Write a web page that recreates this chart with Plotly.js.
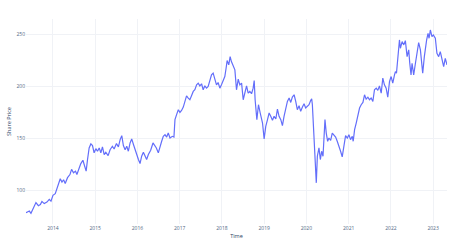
<!DOCTYPE html>
<html>
<head>
<meta charset="utf-8">
<script src="https://cdn.plot.ly/plotly-3.0.1.min.js"></script>
<style>html,body{margin:0;padding:0;background:#fff;}#chart{width:474px;height:252px;}</style>
</head>
<body>
<div id="chart"></div>
<script>
const dates = [
"2013-05-13","2013-06-11","2013-06-25","2013-07-18","2013-08-07","2013-08-28","2013-09-14","2013-09-28","2013-10-18","2013-11-10","2013-11-30","2013-12-15",
"2014-01-01","2014-01-21","2014-02-04","2014-02-19","2014-03-05","2014-03-20","2014-04-03","2014-04-17","2014-05-07","2014-05-28","2014-06-11","2014-06-28","2014-07-15","2014-07-27","2014-08-16","2014-08-30","2014-09-17","2014-09-28","2014-10-15","2014-10-27","2014-11-10","2014-11-25","2014-12-09","2014-12-23",
"2015-01-07","2015-01-21","2015-02-05","2015-02-19","2015-03-05","2015-03-20","2015-04-03","2015-04-23","2015-05-10","2015-05-30","2015-06-14","2015-07-04","2015-07-21","2015-08-05","2015-08-19","2015-09-02","2015-09-17","2015-10-01","2015-10-15","2015-10-30","2015-11-13","2015-11-28","2015-12-12","2015-12-26",
"2016-01-10","2016-01-24","2016-02-07","2016-02-22","2016-03-07","2016-03-21","2016-04-05","2016-04-25","2016-05-15","2016-05-29","2016-06-13","2016-06-30","2016-07-14","2016-07-29","2016-08-12","2016-08-27","2016-09-10","2016-09-24","2016-10-09","2016-10-29","2016-11-12","2016-11-21","2016-12-05","2016-12-20",
"2017-01-03","2017-01-17","2017-02-01","2017-02-15","2017-03-01","2017-03-16","2017-03-30","2017-04-13","2017-04-28","2017-05-12","2017-05-27","2017-06-10","2017-06-24","2017-07-09","2017-07-23","2017-08-06","2017-08-21","2017-09-04","2017-09-19","2017-10-03","2017-10-17","2017-11-01","2017-11-15","2017-11-29","2017-12-14","2017-12-28",
"2018-01-11","2018-01-26","2018-02-06","2018-02-15","2018-03-01","2018-03-13","2018-03-24","2018-04-08","2018-04-23","2018-05-07","2018-05-22","2018-06-05","2018-06-20","2018-07-04","2018-07-18","2018-08-02","2018-08-16","2018-08-30","2018-09-14","2018-09-28","2018-10-07","2018-10-15","2018-10-30","2018-11-13","2018-11-28","2018-12-06","2018-12-18",
"2019-01-01","2019-01-15","2019-01-30","2019-02-13","2019-02-27","2019-03-14","2019-03-28","2019-04-12","2019-04-26","2019-05-10","2019-05-25","2019-06-08","2019-06-22","2019-07-07","2019-07-21","2019-08-05","2019-08-19","2019-09-02","2019-09-17","2019-10-01","2019-10-15","2019-10-30","2019-11-13","2019-11-28","2019-12-12","2019-12-26",
"2020-01-10","2020-01-24","2020-02-07","2020-02-16","2020-02-22","2020-03-01","2020-03-10","2020-03-19","2020-03-27","2020-04-05","2020-04-19","2020-05-01","2020-05-12","2020-05-24","2020-06-01","2020-06-10","2020-06-21","2020-07-03","2020-07-14","2020-07-29","2020-08-12","2020-08-27","2020-09-10","2020-09-24","2020-10-09","2020-10-23","2020-11-06","2020-11-21","2020-12-05","2020-12-20",
"2021-01-03","2021-01-17","2021-02-01","2021-02-09","2021-02-21","2021-03-07","2021-03-21","2021-04-05","2021-04-19","2021-05-04","2021-05-18","2021-06-01","2021-06-16","2021-06-30","2021-07-14","2021-07-29","2021-08-12","2021-08-27","2021-09-10","2021-09-24","2021-10-09","2021-10-23","2021-11-06","2021-11-21","2021-12-05","2021-12-20",
"2022-01-03","2022-01-17","2022-02-01","2022-02-09","2022-02-18","2022-02-26","2022-03-07","2022-03-16","2022-03-24","2022-04-08","2022-04-22","2022-05-06","2022-05-21","2022-06-04","2022-06-13","2022-06-24","2022-07-03","2022-07-17","2022-08-01","2022-08-15","2022-08-29","2022-09-13","2022-09-21","2022-10-03","2022-10-17","2022-10-26","2022-11-06","2022-11-18","2022-11-27","2022-12-08","2022-12-22",
"2023-01-03","2023-01-20","2023-02-03","2023-02-18","2023-03-04","2023-03-19","2023-04-02","2023-04-16","2023-05-01"
];
const prices = [
78.2,79.8,77.6,83,88,85,86,89,87,88.5,91,89.4,
95,96.5,100.6,105.4,111,107.7,110,106.4,112,115,120,116.7,118.3,115,121.5,125.6,128.8,124.7,118.3,129.5,140.7,144.6,143,136,
140,137.5,140.7,136,141.7,134.3,136.5,133.3,139,142.3,139.7,144.9,141.7,148.7,152.6,143,139,142.3,137.5,145.5,149.4,144,138.5,134.3,
129.5,125.6,132.7,136.5,132,129.5,134.3,138.5,145.5,143,140.7,136,142.3,147.1,151.9,153.5,151.2,155.1,150.3,151.9,151.2,168,172.8,177.6,
175,176.9,180.1,187.2,191,188.8,187.2,191,195.2,196.8,201.6,203.2,200.6,202.6,196.8,200.6,198.4,200,204.8,211.2,212.8,208,201.6,203.8,198.4,201.6,
205.8,209.6,217.6,225,220.8,228.8,224,219.2,216,196.8,207,201.6,203.2,187.2,193.6,200.6,193.6,195.2,193,198.4,205.8,187.2,168,182.4,174.4,169.6,164.7,149.4,
161.5,168,174.4,171.2,167.3,171.2,168.6,178.2,171.2,168,162.2,171.2,177.6,185.6,188.8,184.6,189.7,192,185.6,177.6,181.4,176,180.1,183.3,179.2,181.4,
182.4,186.5,188.1,182.4,161.5,142.3,129.5,107,132.7,140.7,129.5,137.5,132.7,153.5,168,155,147,150.3,148,155,152.6,151.2,147.1,140.7,137.5,132,142.3,152.6,150.3,153.5,
148.7,151.9,147.1,158.3,164.7,171.2,179.2,182.4,184.6,192,187.8,189.7,187.2,188.8,185.6,196.8,198.4,196.2,200.6,193.6,208,201.6,198.4,189.7,204.8,209.6,
203.2,211.2,214.4,212.8,225.6,235.3,244.9,236.9,243.3,240.1,244.2,228.8,235.3,222.4,211.2,222.4,211.2,222.4,232,242.3,235.3,225.6,212.8,228.8,238.5,244.9,251.3,246.5,254.5,248.1,249.7,
246.5,232,228.8,233.6,225.6,219.2,227.2,220.8,209.6
];
const yTitle = "Share Price";
const xTitle = "Time";

const trace = {
  x: dates, y: prices, type: "scatter", mode: "lines",
  line: {color: "#636efa", width: 1.2}, hoverinfo: "skip"
};
const tickFont = {family: "Open Sans, Arial, sans-serif", size: 5, color: "#506784"};
const layout = {
  width: 474, height: 252,
  margin: {l: 26, r: 27, t: 19, b: 28, pad: 0},
  paper_bgcolor: "#ffffff", plot_bgcolor: "#ffffff",
  showlegend: false,
  font: {family: "Open Sans, Arial, sans-serif", size: 5, color: "#2a3f5f"},
  xaxis: {
    type: "date", autorange: true,
    showgrid: true, gridcolor: "#f0f2f6", gridwidth: 1, zeroline: false, showline: false,
    dtick: "M12", tickformat: "%Y", ticks: "", tickfont: tickFont,
    title: {text: xTitle, font: {size: 5.5, color: "#2a3f5f"}, standoff: 4}
  },
  yaxis: {
    range: [67.3, 265.1],
    showgrid: true, gridcolor: "#f0f2f6", gridwidth: 1, zeroline: false, showline: false,
    tickvals: [100, 150, 200, 250], ticks: "", tickfont: tickFont,
    title: {text: yTitle, font: {size: 5.5, color: "#2a3f5f"}, standoff: 4}
  }
};
Plotly.newPlot("chart", [trace], layout, {staticPlot: true, displayModeBar: false});
</script>
</body>
</html>
